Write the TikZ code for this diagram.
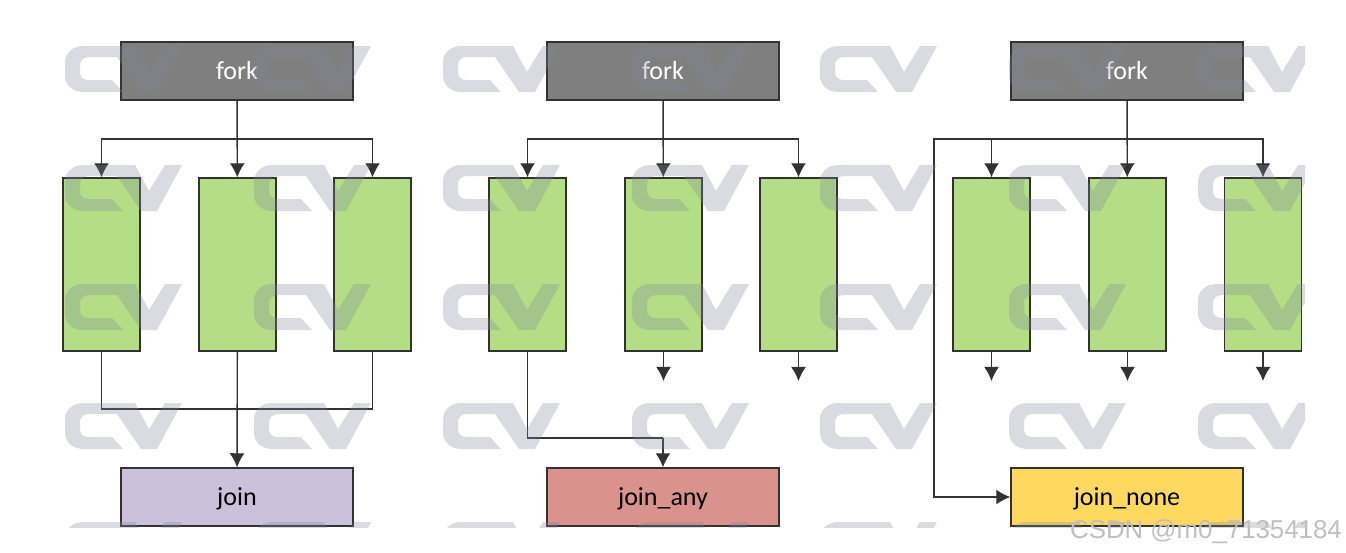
\documentclass[tikz,border=0pt]{standalone}
\usepackage{fontspec}
\setmainfont{Carlito}
\newfontfamily\markfont{Liberation Sans}
\usetikzlibrary{arrows.meta}
\definecolor{forkgray}{RGB}{127,127,127}
\definecolor{taskgreen}{RGB}{179,222,134}
\definecolor{joinpurple}{RGB}{204,193,218}
\definecolor{joinred}{RGB}{217,146,140}
\definecolor{joinyellow}{RGB}{255,216,96}
\definecolor{boxedge}{RGB}{50,50,50}
\definecolor{cvgray}{RGB}{128,136,152}
\tikzset{
    box/.style={draw=boxedge, line width=0.8pt, inner sep=0pt, font=\fontsize{14.8}{18}\selectfont},
    forkbox/.style={box, fill=forkgray, text=white, minimum width=4.64cm, minimum height=1.16cm},
    joinbox/.style={box, text depth=0pt, minimum width=4.64cm, minimum height=1.16cm},
    taskbox/.style={box, fill=taskgreen, minimum width=1.54cm, minimum height=3.46cm},
    link/.style={draw=boxedge, line width=0.8pt},
}
\begin{document}
\begin{tikzpicture}[>={Latex[length=8pt,width=8.5pt]}, x=0.02cm, y=-0.02cm]
    \useasboundingbox (0,0) rectangle (1346,552);
    % fork boxes
    \foreach \name/\x in {A/237, B/663, C/1127} {
        \node[forkbox] (fork\name) at (\x,71) {fork};
    }
    % green tasks
    \foreach \name/\x in {Aa/101.5, Ab/237.5, Ac/372.5, Ba/527.5, Bb/663.5, Bc/798.5, Ca/991.5, Cb/1127.5, Cc/1263} {
        \node[taskbox] (task\name) at (\x,264.5) {};
    }
    % join boxes
    \node[joinbox, fill=joinpurple] (joinA) at (237,497) {join};
    \node[joinbox, fill=joinred] (joinB) at (663,497) {join\_any};
    \node[joinbox, fill=joinyellow] (joinC) at (1127,497) {join\_none};
    % free ends
    \coordinate (busA) at (237,139);
    \coordinate (busB) at (663,139);
    \coordinate (busC) at (1127,139);
    \coordinate (cornerC) at (934,139);
    \coordinate (mergeA) at (237,409);
    \coordinate (mergeB) at (663,438);
    \coordinate (endBb) at (663.5,381);
    \coordinate (endBc) at (798.5,381);
    \coordinate (endCa) at (991.5,381);
    \coordinate (endCb) at (1127.5,381);
    \coordinate (endCc) at (1263,381);
    % first group
    \draw[link, ->] (forkA) -- (taskAb);
    \draw[link, ->] (busA) -| (taskAa);
    \draw[link, ->] (busA) -| (taskAc);
    \draw[link] (taskAa) |- (mergeA);
    \draw[link] (taskAc) |- (mergeA);
    \draw[link, ->] (taskAb) -- (joinA);
    % second group
    \draw[link, ->] (forkB) -- (taskBb);
    \draw[link, ->] (busB) -| (taskBa);
    \draw[link, ->] (busB) -| (taskBc);
    \draw[link] (taskBa) |- (mergeB);
    \draw[link, ->] (mergeB) -- (joinB);
    \draw[link, ->] (taskBb) -- (endBb);
    \draw[link, ->] (taskBc) -- (endBc);
    % third group
    \draw[link, ->] (forkC) -- (taskCb);
    \draw[link, ->] (busC) -| (taskCc);
    \draw[link, ->] (busC) -- (cornerC) |- (joinC);
    \draw[link, ->] (taskCa |- busC) -- (taskCa);
    \foreach \name in {a, b, c} {
        \draw[link, ->] (taskC\name) -- (endC\name);
    }
    % CV marks over everything
    \begin{scope}
        \clip (0,0) rectangle (1305,527);
        \foreach \x in {65, 254, 443, 632, 820, 1009, 1198} {
            \foreach \y in {46, 165, 284, 403, 522} {
                \fill[cvgray, opacity=0.3, shift={(\x,\y)}]
                    (70,0) -- (84,26) -- (100,0) -- (117,0) -- (92,46) -- (76,46) -- (52,11)
                    -- (24,11) .. controls (18,11) and (15,15) .. (15,19) -- (15,26)
                    .. controls (15,31) and (18,34) .. (24,34) -- (47,34) -- (58,46) -- (18,46)
                    .. controls (7,46) and (0,38) .. (0,30) -- (0,16)
                    .. controls (0,8) and (7,0) .. (18,0) -- cycle;
            }
        }
    \end{scope}
    \node[text=black!25, font=\markfont\fontsize{14.7}{18}\selectfont, inner sep=0pt] (mark) at (1206,532) {CSDN @m0\_71354184};
\end{tikzpicture}
\end{document}
